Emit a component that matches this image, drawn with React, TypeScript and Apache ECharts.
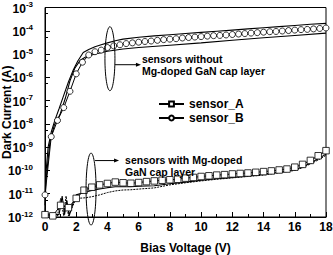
import React, { useEffect, useRef } from "react";
import * as echarts from "echarts";

// ---- data (log10 of current in A) ----
// upper group (without Mg-doped GaN cap layer)
const voltTopNoCap = [0, 0.05, 0.2, 0.4, 0.64, 0.9, 1.17, 1.5, 1.81, 2.1, 2.45, 2.8, 3.2, 3.6, 4.0, 4.5, 5.0, 6.0, 7.0, 8.0, 9.0, 10.0, 11.0, 12.0, 13.0, 14.0, 15.0, 16.0, 17.0, 18.0];
const logTopNoCap = [-11.5, -10.2, -9.0, -8.35, -7.83, -7.35, -6.83, -6.2, -5.68, -5.3, -4.93, -4.8, -4.69, -4.6, -4.52, -4.43, -4.36, -4.28, -4.22, -4.17, -4.12, -4.07, -4.02, -3.97, -3.92, -3.87, -3.82, -3.77, -3.72, -3.68];

const voltB = [0, 0.4, 0.8, 1.2, 1.6, 2.0, 2.4, 2.8, 3.2, 3.6, 4.0, 4.4, 4.8, 5.2, 5.6, 6.0, 6.4, 6.8, 7.2, 7.6, 8.0, 8.4, 8.8, 9.2, 9.6, 10.0, 10.4, 10.8, 11.2, 11.6, 12.0, 12.4, 12.8, 13.2, 13.6, 14.0, 14.4, 14.8, 15.2, 15.6, 16.0, 16.4, 16.8, 17.2, 17.6, 18.0];
const logB = [-11.05, -8.55, -7.85, -7.3, -6.6, -5.85, -5.35, -5.04, -4.9, -4.83, -4.72, -4.65, -4.6, -4.55, -4.52, -4.49, -4.46, -4.44, -4.41, -4.38, -4.36, -4.34, -4.31, -4.29, -4.27, -4.25, -4.23, -4.21, -4.2, -4.18, -4.16, -4.14, -4.12, -4.1, -4.08, -4.06, -4.04, -4.03, -4.01, -3.99, -3.97, -3.95, -3.94, -3.92, -3.9, -3.88];

const voltLowNoCap = [0, 0.05, 0.32, 0.6, 0.96, 1.3, 1.6, 1.9, 2.24, 2.6, 3.1, 4.0, 5.0, 6.0, 8.0, 10.0, 12.0, 14.0, 16.0, 18.0];
const logLowNoCap = [-11.9, -10.5, -8.75, -8.05, -7.6, -6.9, -6.15, -5.62, -5.28, -5.13, -5.02, -4.88, -4.78, -4.72, -4.62, -4.52, -4.41, -4.3, -4.2, -4.1];

// lower group (with Mg-doped GaN cap layer)
const voltA = [0, 0.5, 1.0, 1.5, 2.0, 2.5, 3.0, 3.5, 4.0, 4.5, 5.0, 5.5, 6.0, 6.5, 7.0, 7.5, 8.0, 8.5, 9.0, 9.5, 10.0, 10.5, 11.0, 11.5, 12.0, 12.5, 13.0, 13.5, 14.0, 14.5, 15.0, 15.5, 16.0, 16.5, 17.0, 17.5, 18.0];
const logA = [-11.9, -11.95, -11.5, -11.6, -11.2, -10.85, -10.72, -10.62, -10.56, -10.5, -10.53, -10.55, -10.52, -10.48, -10.45, -10.42, -10.4, -10.38, -10.33, -10.3, -10.26, -10.23, -10.2, -10.18, -10.15, -10.13, -10.11, -10.08, -10.05, -10.02, -9.98, -9.94, -9.86, -9.74, -9.57, -9.37, -9.15];

const voltMidCap = [0, 0.3, 0.9, 1.1, 1.25, 1.4, 1.55, 1.8, 2.0, 2.5, 3.0, 3.5, 4.0, 4.5, 5.0, 5.5, 6.0, 7.0, 8.0, 9.0, 10.0, 11.0, 12.0, 13.0, 14.0, 15.0, 16.0, 16.5, 17.0, 17.5, 18.0];
const logMidCap = [-11.8, -11.9, -11.9, -11.1, -11.9, -11.3, -11.95, -11.4, -11.05, -10.95, -10.86, -10.8, -10.74, -10.7, -10.7, -10.7, -10.68, -10.66, -10.57, -10.5, -10.42, -10.36, -10.3, -10.24, -10.16, -10.08, -9.97, -9.85, -9.68, -9.5, -9.3];

const voltNoisyCap = [0, 0.8, 1.0, 1.2, 1.35, 1.5, 1.8, 2.0, 2.5, 3.0, 3.5, 4.0, 4.5, 5.0, 5.5, 6.0, 7.0, 8.0, 9.0, 10.0, 11.0, 12.0, 13.0, 14.0, 15.0, 16.0, 16.5, 17.0, 17.5, 18.0];
const logNoisyCap = [-11.9, -11.95, -11.2, -11.95, -11.1, -11.95, -11.5, -11.2, -11.18, -11.13, -11.05, -10.95, -10.88, -10.84, -10.83, -10.8, -10.75, -10.62, -10.53, -10.45, -10.38, -10.32, -10.26, -10.2, -10.1, -10.0, -9.88, -9.72, -9.55, -9.35];

const legendNames = ["sensor_A", "sensor_B"];
const noteUpper = ["sensors without", "Mg-doped GaN cap layer"];
const noteLower = ["sensors with Mg-doped", "GaN cap layer"];
// annotation anchors in data units [V, log10 I]
const ellipseUpper = [4.16, -5.2];
const ellipseLower = [2.95, -10.8];

const FONT = "'Liberation Sans', Arial, sans-serif";

const toPairs = (v: number[], l: number[]) => v.map((x, i) => [x, Math.pow(10, l[i])]);

export default function App() {
  const ref = useRef<HTMLDivElement>(null);
  useEffect(() => {
    if (!ref.current) return;
    const chart = echarts.init(ref.current, undefined, { renderer: "svg" });
    const lineBase = {
      type: "line" as const,
      showSymbol: false,
      symbol: "none",
      lineStyle: { color: "#000", width: 1.1 },
      itemStyle: { color: "#000" },
      z: 2,
    };
    chart.setOption({
      animation: false,
      textStyle: { fontFamily: FONT },
      grid: {
        left: 45,
        top: 7.5,
        width: 281,
        height: 209.5,
        outerBoundsMode: "none",
        containLabel: false,
        show: true,
        borderColor: "#000",
        borderWidth: 1,
        backgroundColor: "transparent",
      },
      legend: {
        data: legendNames,
        orient: "vertical",
        left: 153,
        top: 92.5,
        itemWidth: 25,
        itemHeight: 6,
        itemGap: 1,
        textStyle: { fontFamily: FONT, fontWeight: "bold", fontSize: 12, lineHeight: 13, color: "#000" },
      },
      xAxis: {
        type: "value",
        min: 0,
        max: 18,
        interval: 2,
        name: "Bias Voltage (V)",
        nameLocation: "middle",
        nameGap: 25,
        nameMoveOverlap: false,
        nameTextStyle: { fontFamily: FONT, fontWeight: "bold", fontSize: 12, lineHeight: 12, color: "#000" },
        axisLine: { lineStyle: { color: "#000", width: 1 } },
        axisTick: { inside: true, length: 5, lineStyle: { color: "#000" } },
        minorTick: { show: true, splitNumber: 2, length: 3, lineStyle: { color: "#000" } },
        splitLine: { show: false },
        axisLabel: { margin: 4, fontFamily: FONT, fontWeight: "bold", fontSize: 12, color: "#000" },
      },
      yAxis: {
        type: "log",
        logBase: 10,
        min: 1e-12,
        max: 1e-3,
        interval: 1,
        name: "Dark Current (A)",
        nameLocation: "middle",
        nameGap: 32,
        nameMoveOverlap: false,
        nameTextStyle: { fontFamily: FONT, fontWeight: "bold", fontSize: 12, lineHeight: 12, color: "#000" },
        axisLine: { show: true, lineStyle: { color: "#000", width: 1 } },
        axisTick: { inside: true, length: 5, lineStyle: { color: "#000" } },
        minorTick: { show: true, splitNumber: 2, length: 3, lineStyle: { color: "#000" } },
        splitLine: { show: false },
        axisLabel: {
          margin: 12,
          formatter: (v: number) => `{b|10}{s|${Math.round(Math.log10(v))}}`,
          rich: {
            b: { fontFamily: FONT, fontWeight: "bold", fontSize: 12, color: "#000", verticalAlign: "bottom", lineHeight: 14 },
            s: { fontFamily: FONT, fontWeight: "bold", fontSize: 8, color: "#000", verticalAlign: "top", lineHeight: 14 },
          },
        },
      },
      series: [
        { ...lineBase, name: "upperTop", data: toPairs(voltTopNoCap, logTopNoCap) },
        { ...lineBase, name: "upperLow", data: toPairs(voltLowNoCap, logLowNoCap) },
        {
          type: "line",
          name: "sensor_B",
          data: toPairs(voltB, logB),
          symbol: "circle",
          symbolSize: 6,
          showSymbol: true,
          lineStyle: { color: "#000", width: 1 },
          itemStyle: { color: "#fff", borderColor: "#000", borderWidth: 0.8 },
          z: 3,
        },
        { ...lineBase, name: "lowerMid", data: toPairs(voltMidCap, logMidCap) },
        { ...lineBase, name: "lowerNoisy", data: toPairs(voltNoisyCap, logNoisyCap), lineStyle: { color: "#000", width: 1, type: [2, 1] } },
        {
          type: "line",
          name: "sensor_A",
          data: toPairs(voltA, logA),
          symbol: "rect",
          symbolSize: 6.5,
          showSymbol: true,
          lineStyle: { color: "#000", width: 1 },
          itemStyle: { color: "#fff", borderColor: "#000", borderWidth: 0.8 },
          z: 3,
        },
      ],
    });

    const px = (p: number[]) => chart.convertToPixel({ gridIndex: 0 }, [p[0], Math.pow(10, p[1])]) as number[];
    const up = px(ellipseUpper);
    const lo = px(ellipseLower);
    const txt = (x: number, y: number, s: string) => ({
      type: "text",
      x,
      y,
      style: { text: s, fontFamily: FONT, fontWeight: "bold", fontSize: 10.5, fill: "#000", verticalAlign: "middle" },
      z: 10,
    });
    const arrow = (x1: number, x2: number, y: number) => [
      { type: "line", shape: { x1, y1: y, x2: x2 - 4, y2: y }, style: { stroke: "#000", lineWidth: 1 }, z: 10 },
      { type: "polygon", shape: { points: [[x2, y], [x2 - 5, y - 2], [x2 - 5, y + 2]] }, style: { fill: "#000" }, z: 10 },
    ];
    chart.setOption({
      graphic: [
        { type: "ellipse", shape: { cx: up[0], cy: up[1], rx: 5, ry: 32 }, style: { fill: "none", stroke: "#000", lineWidth: 1 }, z: 10 },
        { type: "ellipse", shape: { cx: lo[0], cy: lo[1], rx: 5, ry: 36 }, style: { fill: "none", stroke: "#000", lineWidth: 1 }, z: 10 },
        ...arrow(up[0] + 5, up[0] + 31, up[1] + 6),
        ...arrow(lo[0] + 4, lo[0] + 28, lo[1] - 28.5),
        txt(up[0] + 32, up[1], noteUpper[0]),
        txt(up[0] + 32, up[1] + 12.7, noteUpper[1]),
        txt(lo[0] + 34, lo[1] - 29.5, noteLower[0]),
        txt(lo[0] + 34, lo[1] - 17.5, noteLower[1]),
      ],
    });
    return () => chart.dispose();
  }, []);
  return <div ref={ref} style={{ position: "fixed", left: 0, top: 0, width: 333, height: 255, background: "#fff" }} />;
}
